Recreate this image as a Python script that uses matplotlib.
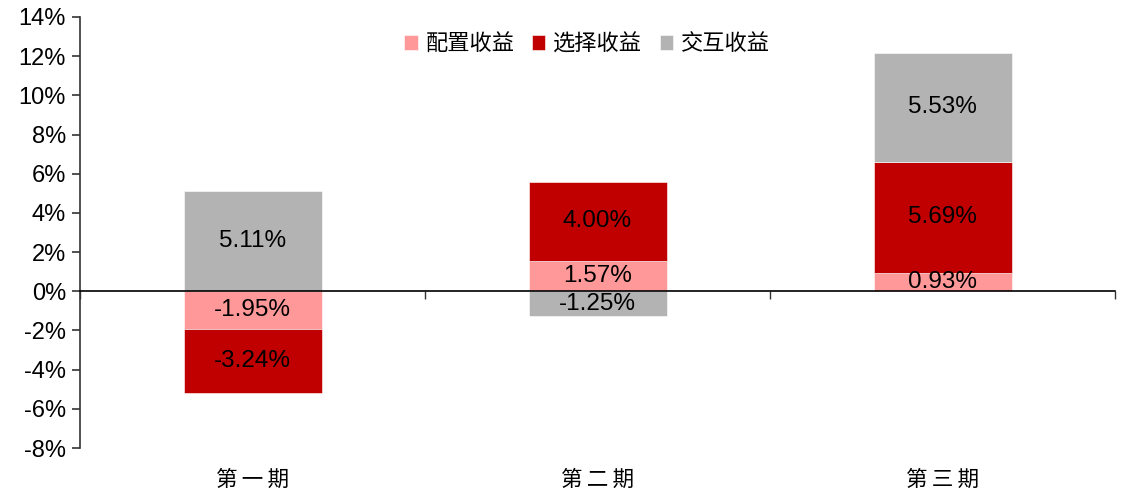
import matplotlib
matplotlib.use("Agg")
import matplotlib.pyplot as plt
import numpy as np

categories = ["第一期", "第二期", "第三期"]
series_names = ["配置收益", "选择收益", "交互收益"]
allocation = [-1.95, 1.57, 0.93]
selection = [-3.24, 4.00, 5.69]
interaction = [5.11, -1.25, 5.53]
colors = ["#FF9999", "#C00000", "#B3B3B3"]
yticks = list(range(-8, 15, 2))

plt.rcParams['font.family'] = ['Liberation Sans', 'Noto Sans CJK SC', 'DejaVu Sans']
cjk = ['Noto Sans CJK SC', 'DejaVu Sans']

fig = plt.figure(figsize=(11.22, 4.98), dpi=100)
ax = fig.add_axes([0.0713, 0.1004, 0.9225, 0.8655])

x = np.arange(len(categories))
pos_base = np.zeros(len(categories))
neg_base = np.zeros(len(categories))
series = [allocation, selection, interaction]
for name, vals, col in zip(series_names, series, colors):
    vals = np.array(vals, dtype=float)
    bottoms = np.where(vals >= 0, pos_base, neg_base)
    ax.bar(x, vals, width=0.4, bottom=bottoms, color=col, label=name,
           edgecolor='white', linewidth=0.4, zorder=2)
    for xi, b, v in zip(x, bottoms, vals):
        ax.text(xi, b + v / 2, f"{v:.2f}%", ha='center', va='center',
                fontsize=17.5, color='black', zorder=3)
    pos_base = np.where(vals >= 0, pos_base + vals, pos_base)
    neg_base = np.where(vals < 0, neg_base + vals, neg_base)

ax.set_xlim(-0.5, len(categories) - 0.5)
ax.set_ylim(-8, 14)
ax.set_yticks(yticks)
ax.set_yticklabels([f"{t}%" for t in yticks], fontsize=17)
ax.set_xticks(np.arange(len(categories) + 1) - 0.5)
ax.set_xticklabels([])
ax.tick_params(axis='x', direction='out', length=6, width=1, colors='#333333')
ax.tick_params(axis='y', direction='out', length=6, width=1.2, colors='#333333',
               labelcolor='black', pad=4)

for s in ['top', 'right']:
    ax.spines[s].set_visible(False)
ax.spines['bottom'].set_position(('data', 0))
ax.spines['bottom'].set_color('black')
ax.spines['bottom'].set_linewidth(1.2)
ax.spines['left'].set_color('#333333')
ax.spines['left'].set_linewidth(1.2)
ax.spines['bottom'].set_zorder(4)

for xi, c in zip(x, categories):
    ax.text(xi, -0.048, "\u2009".join(c), transform=ax.get_xaxis_transform(),
            ha='center', va='top', fontsize=15.5, family=cjk)

ax.legend(loc='upper center', bbox_to_anchor=(0.49, 0.985), ncol=3,
          frameon=False, prop={'family': cjk, 'size': 16},
          handlelength=0.6, handleheight=0.6, handletextpad=0.35,
          columnspacing=0.8, borderaxespad=0)

fig.savefig("out.png", dpi=100)
